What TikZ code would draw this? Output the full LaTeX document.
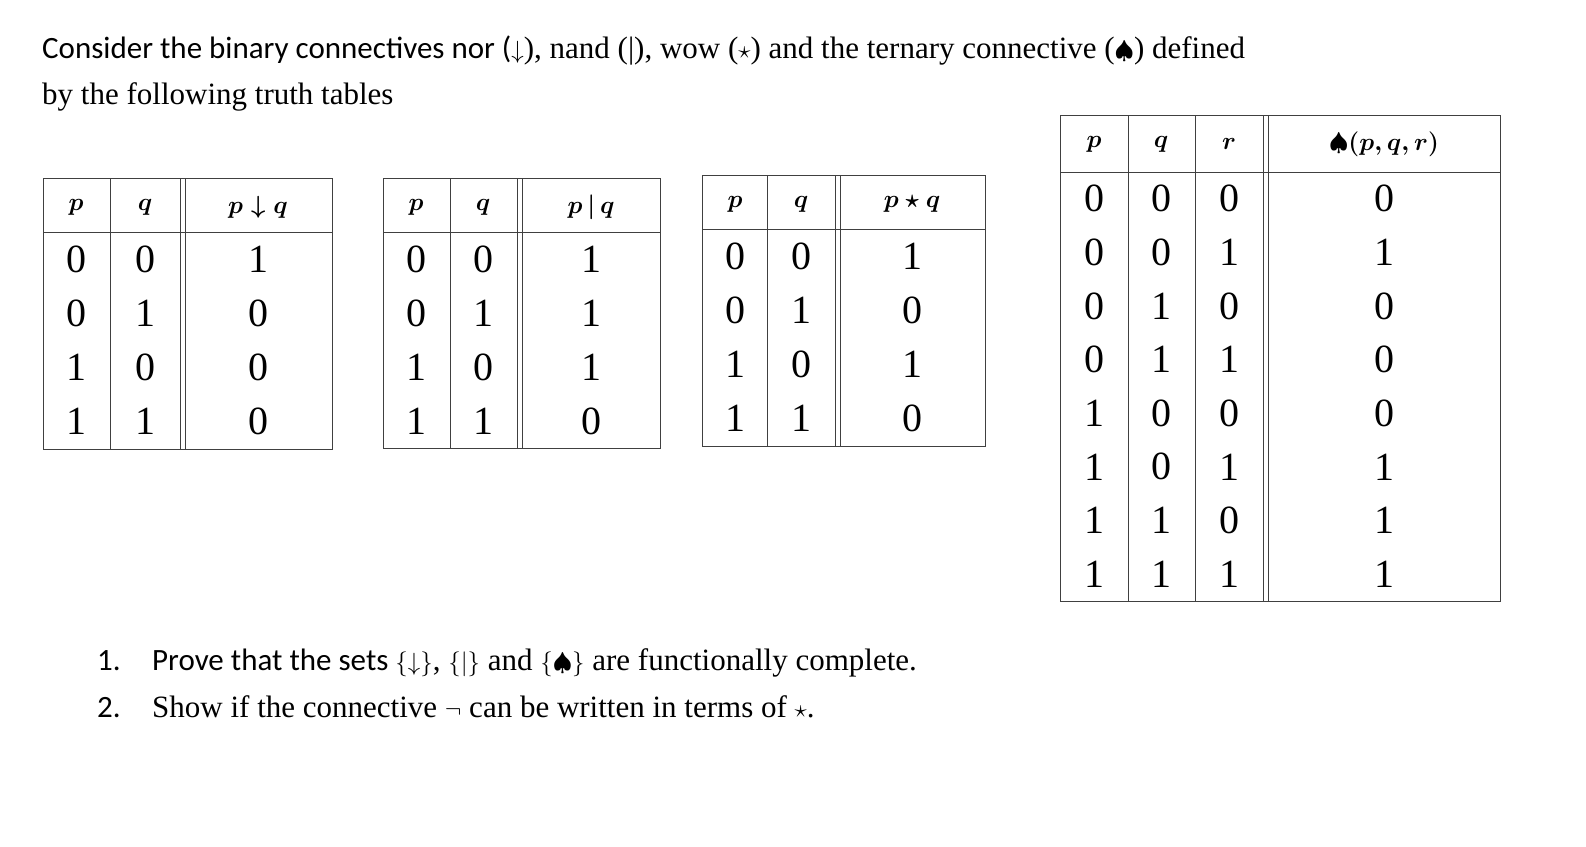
\documentclass[tikz,border=0pt]{standalone}
\usepackage{amsmath}
\usepackage{fontspec}
\setmainfont{Liberation Serif}
\newfontfamily\calfont{Carlito}
\tikzset{grid/.style={line width=1pt,draw=black!75},
 txt/.style={anchor=base west,inner sep=0pt,font=\fontsize{31}{36}\selectfont},
 cell/.style={inner sep=0pt,font=\fontsize{40}{44}\selectfont}}
\newcommand{\bb}[1]{\boldsymbol{#1}}
\begin{document}
\begin{tikzpicture}[x=1pt,y=-1pt]
\useasboundingbox (0,0) rectangle (1586,846);
\node[txt] (l1) at (42,58) {{\calfont Consider the binary connectives nor (}$\downarrow$), nand (|), wow ($\star$) and the ternary connective ($\spadesuit$) defined};
\node[txt] (l2) at (42,104) {by the following truth tables};
% table 1
\draw[grid] (43,178) rectangle (332,449);
\foreach \x in {110,180,185} \draw[grid] (\x,178)--(\x,449);
\draw[grid] (43,232)--(332,232);
\node[cell] (a0) at (76,207) {$\bb p$}; \node[cell] (a1) at (145,207) {$\bb q$}; \node[cell] (a2) at (258,207) {$\bb{p\downarrow q}$};
\foreach \p/\q/\r [count=\i] in {0/0/1,0/1/0,1/0/0,1/1/0}{
 \node[cell] (ap\i) at (76,232+54*\i-27) {\p};
 \node[cell] (aq\i) at (145,232+54*\i-27) {\q};
 \node[cell] (ar\i) at (258,232+54*\i-27) {\r};}
% table 2
\draw[grid] (383,178) rectangle (660,448);
\foreach \x in {450,517,522} \draw[grid] (\x,178)--(\x,448);
\draw[grid] (383,232)--(660,232);
\node[cell] (b0) at (416,207) {$\bb p$}; \node[cell] (b1) at (483,207) {$\bb q$}; \node[cell] (b2) at (591,207) {$\bb{p\,|\,q}$};
\foreach \p/\q/\r [count=\i] in {0/0/1,0/1/1,1/0/1,1/1/0}{
 \node[cell] (bp\i) at (416,232+54*\i-27) {\p};
 \node[cell] (bq\i) at (483,232+54*\i-27) {\q};
 \node[cell] (br\i) at (591,232+54*\i-27) {\r};}
% table 3
\draw[grid] (702,175) rectangle (985,446);
\foreach \x in {767,835,840} \draw[grid] (\x,175)--(\x,446);
\draw[grid] (702,229)--(985,229);
\node[cell] (c0) at (735,204) {$\bb p$}; \node[cell] (c1) at (801,204) {$\bb q$}; \node[cell] (c2) at (912,204) {$\bb{p\star q}$};
\foreach \p/\q/\r [count=\i] in {0/0/1,0/1/0,1/0/1,1/1/0}{
 \node[cell] (cp\i) at (735,229+54*\i-27) {\p};
 \node[cell] (cq\i) at (801,229+54*\i-27) {\q};
 \node[cell] (cr\i) at (912,229+54*\i-27) {\r};}
% table 4
\draw[grid] (1060,115) rectangle (1500,601);
\foreach \x in {1128,1195,1263,1268} \draw[grid] (\x,115)--(\x,601);
\draw[grid] (1060,172)--(1500,172);
\node[cell] (d0) at (1094,144) {$\bb p$}; \node[cell] (d1) at (1161,144) {$\bb q$}; \node[cell] (d2) at (1229,144) {$\bb r$};
\node[cell] (d3) at (1384,144) {$\spadesuit\bb{(p,q,r)}$};
\foreach \p/\q/\r/\s [count=\i] in {0/0/0/0,0/0/1/1,0/1/0/0,0/1/1/0,1/0/0/0,1/0/1/1,1/1/0/1,1/1/1/1}{
 \node[cell] (dp\i) at (1094,172+53.6*\i-26.8) {\p};
 \node[cell] (dq\i) at (1161,172+53.6*\i-26.8) {\q};
 \node[cell] (dr\i) at (1229,172+53.6*\i-26.8) {\r};
 \node[cell] (ds\i) at (1384,172+53.6*\i-26.8) {\s};}
% list
\node[txt] (n1) at (97,670) {\calfont 1.}; \node[txt] (t1) at (152,670) {{\calfont Prove that the sets }$\{\downarrow\}$, $\{|\}$ and $\{\spadesuit\}$ are functionally complete.};
\node[txt] (n2) at (97,717) {\calfont 2.}; \node[txt] (t2) at (152,717) {Show if the connective $\neg$ can be written in terms of $\star$.};
\end{tikzpicture}
\end{document}
